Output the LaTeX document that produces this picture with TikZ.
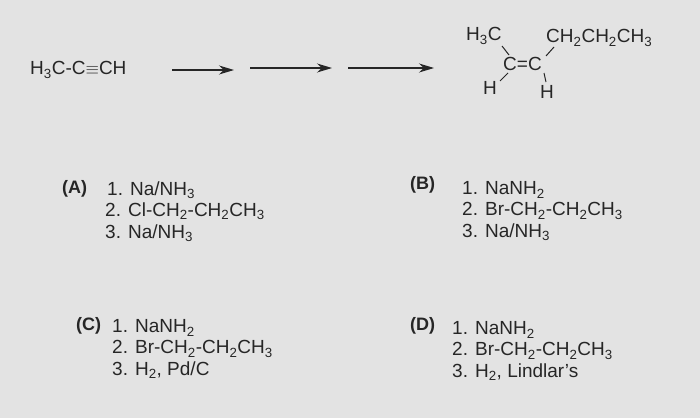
\documentclass[tikz,border=0pt]{standalone}
\usepackage{fontspec}
\setmainfont{Liberation Sans}
\usetikzlibrary{arrows.meta}
\newcommand{\subx}[1]{\textsubscript{#1}}
\begin{document}
\begin{tikzpicture}[x=1pt,y=-1pt,
  txt/.style={inner sep=0pt,anchor=west,font=\fontsize{19}{21}\selectfont,text=black!85},
  lbl/.style={inner sep=0pt,anchor=west,font=\fontsize{18}{20}\selectfont\bfseries,text=black!85},
  rxn/.style={-{Stealth[length=15pt,width=9pt]},line width=1.2pt,black!85},
  bond/.style={line width=1pt,black!85}]
\fill[black!11] (0,0) rectangle (700,418);
\useasboundingbox (0,0) rectangle (700,418);
\node[txt] (sm) at (30,70) {H\subx{3}C-C$\equiv$CH};
\coordinate (a1s) at (172,70); \coordinate (a1e) at (234,70);
\coordinate (a2s) at (250,68); \coordinate (a2e) at (332,68);
\coordinate (a3s) at (348,68); \coordinate (a3e) at (434,68);
\draw[rxn] (a1s) -- (a1e);
\draw[rxn] (a2s) -- (a2e);
\draw[rxn] (a3s) -- (a3e);
% product
\node[txt] (me) at (466,36) {H\subx{3}C};
\node[txt] (pr) at (546,38) {CH\subx{2}CH\subx{2}CH\subx{3}};
\node[txt] (cc) at (503,64) {C=C};
\node[txt] (h1) at (483,88) {H};
\node[txt] (h2) at (540,92) {H};
\draw[bond] (502,46) -- (509,55);
\draw[bond] (554,47) -- (546,56);
\draw[bond] (508,73) -- (500,81);
\draw[bond] (544,73) -- (546,82);
% options
\node[lbl] (A) at (62,189) {(A)};
\node[txt] (A1) at (107,190) {1. Na/NH\subx{3}};
\node[txt] (A2) at (105,211) {2. Cl-CH\subx{2}-CH\subx{2}CH\subx{3}};
\node[txt] (A3) at (105,233) {3. Na/NH\subx{3}};
\node[lbl] (B) at (410,185) {(B)};
\node[txt] (B1) at (462,190) {1. NaNH\subx{2}};
\node[txt] (B2) at (462,211) {2. Br-CH\subx{2}-CH\subx{2}CH\subx{3}};
\node[txt] (B3) at (462,232) {3. Na/NH\subx{3}};
\node[lbl] (C) at (76,326) {(C)};
\node[txt] (C1) at (112,328) {1. NaNH\subx{2}};
\node[txt] (C2) at (112,349) {2. Br-CH\subx{2}-CH\subx{2}CH\subx{3}};
\node[txt] (C3) at (112,370) {3. H\subx{2}, Pd/C};
\node[lbl] (D) at (410,326) {(D)};
\node[txt] (D1) at (452,330) {1. NaNH\subx{2}};
\node[txt] (D2) at (452,351) {2. Br-CH\subx{2}-CH\subx{2}CH\subx{3}};
\node[txt] (D3) at (452,372) {3. H\subx{2}, Lindlar's};
\end{tikzpicture}
\end{document}
